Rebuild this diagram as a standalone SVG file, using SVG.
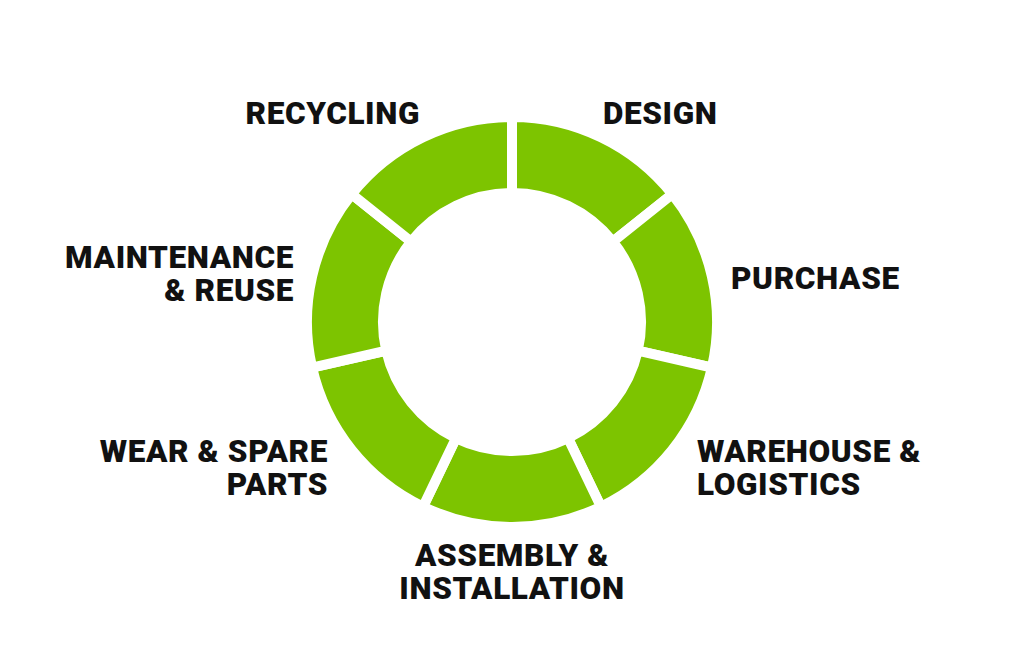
<svg xmlns="http://www.w3.org/2000/svg" width="1024" height="645" viewBox="0 0 1024 645">
<style>
.seg{fill:#7dc400;stroke:#fff;stroke-width:10;stroke-linejoin:miter}
.lbl{font-family:Roboto,"Liberation Sans",sans-serif;font-weight:900;font-size:31.5px;letter-spacing:0.6px;fill:#111}
</style>
<rect width="1024" height="645" fill="#fff"/>
<g id="design"><path class="seg" d="M512,117 A205,205 0 0 1 672.3,194.2 L612.9,241.6 A129,129 0 0 0 512,193 Z"/><text class="lbl" x="603" y="124">DESIGN</text></g>
<g id="purchase"><path class="seg" d="M672.3,194.2 A205,205 0 0 1 711.9,367.6 L637.8,350.7 A129,129 0 0 0 612.9,241.6 Z"/><text class="lbl" x="731" y="289">PURCHASE</text></g>
<g id="warehouse"><path class="seg" d="M711.9,367.6 A205,205 0 0 1 600.9,506.7 L568,438.2 A129,129 0 0 0 637.8,350.7 Z"/><text class="lbl" x="697" y="462">WAREHOUSE &amp;</text><text class="lbl" x="697" y="495">LOGISTICS</text></g>
<g id="assembly"><path class="seg" d="M600.9,506.7 A205,205 0 0 1 423.1,506.7 L456,438.2 A129,129 0 0 0 568,438.2 Z"/><text class="lbl" x="512" y="566" text-anchor="middle">ASSEMBLY &amp;</text><text class="lbl" x="512" y="599" text-anchor="middle">INSTALLATION</text></g>
<g id="wear"><path class="seg" d="M423.1,506.7 A205,205 0 0 1 312.1,367.6 L386.2,350.7 A129,129 0 0 0 456,438.2 Z"/><text class="lbl" x="328" y="462" text-anchor="end">WEAR &amp; SPARE</text><text class="lbl" x="328" y="495" text-anchor="end">PARTS</text></g>
<g id="maintenance"><path class="seg" d="M312.1,367.6 A205,205 0 0 1 351.7,194.2 L411.1,241.6 A129,129 0 0 0 386.2,350.7 Z"/><text class="lbl" x="294" y="268" text-anchor="end">MAINTENANCE</text><text class="lbl" x="294" y="301" text-anchor="end">&amp; REUSE</text></g>
<g id="recycling"><path class="seg" d="M351.7,194.2 A205,205 0 0 1 512,117 L512,193 A129,129 0 0 0 411.1,241.6 Z"/><text class="lbl" x="420" y="124" text-anchor="end">RECYCLING</text></g>
<g id="connectors"/>
</svg>
